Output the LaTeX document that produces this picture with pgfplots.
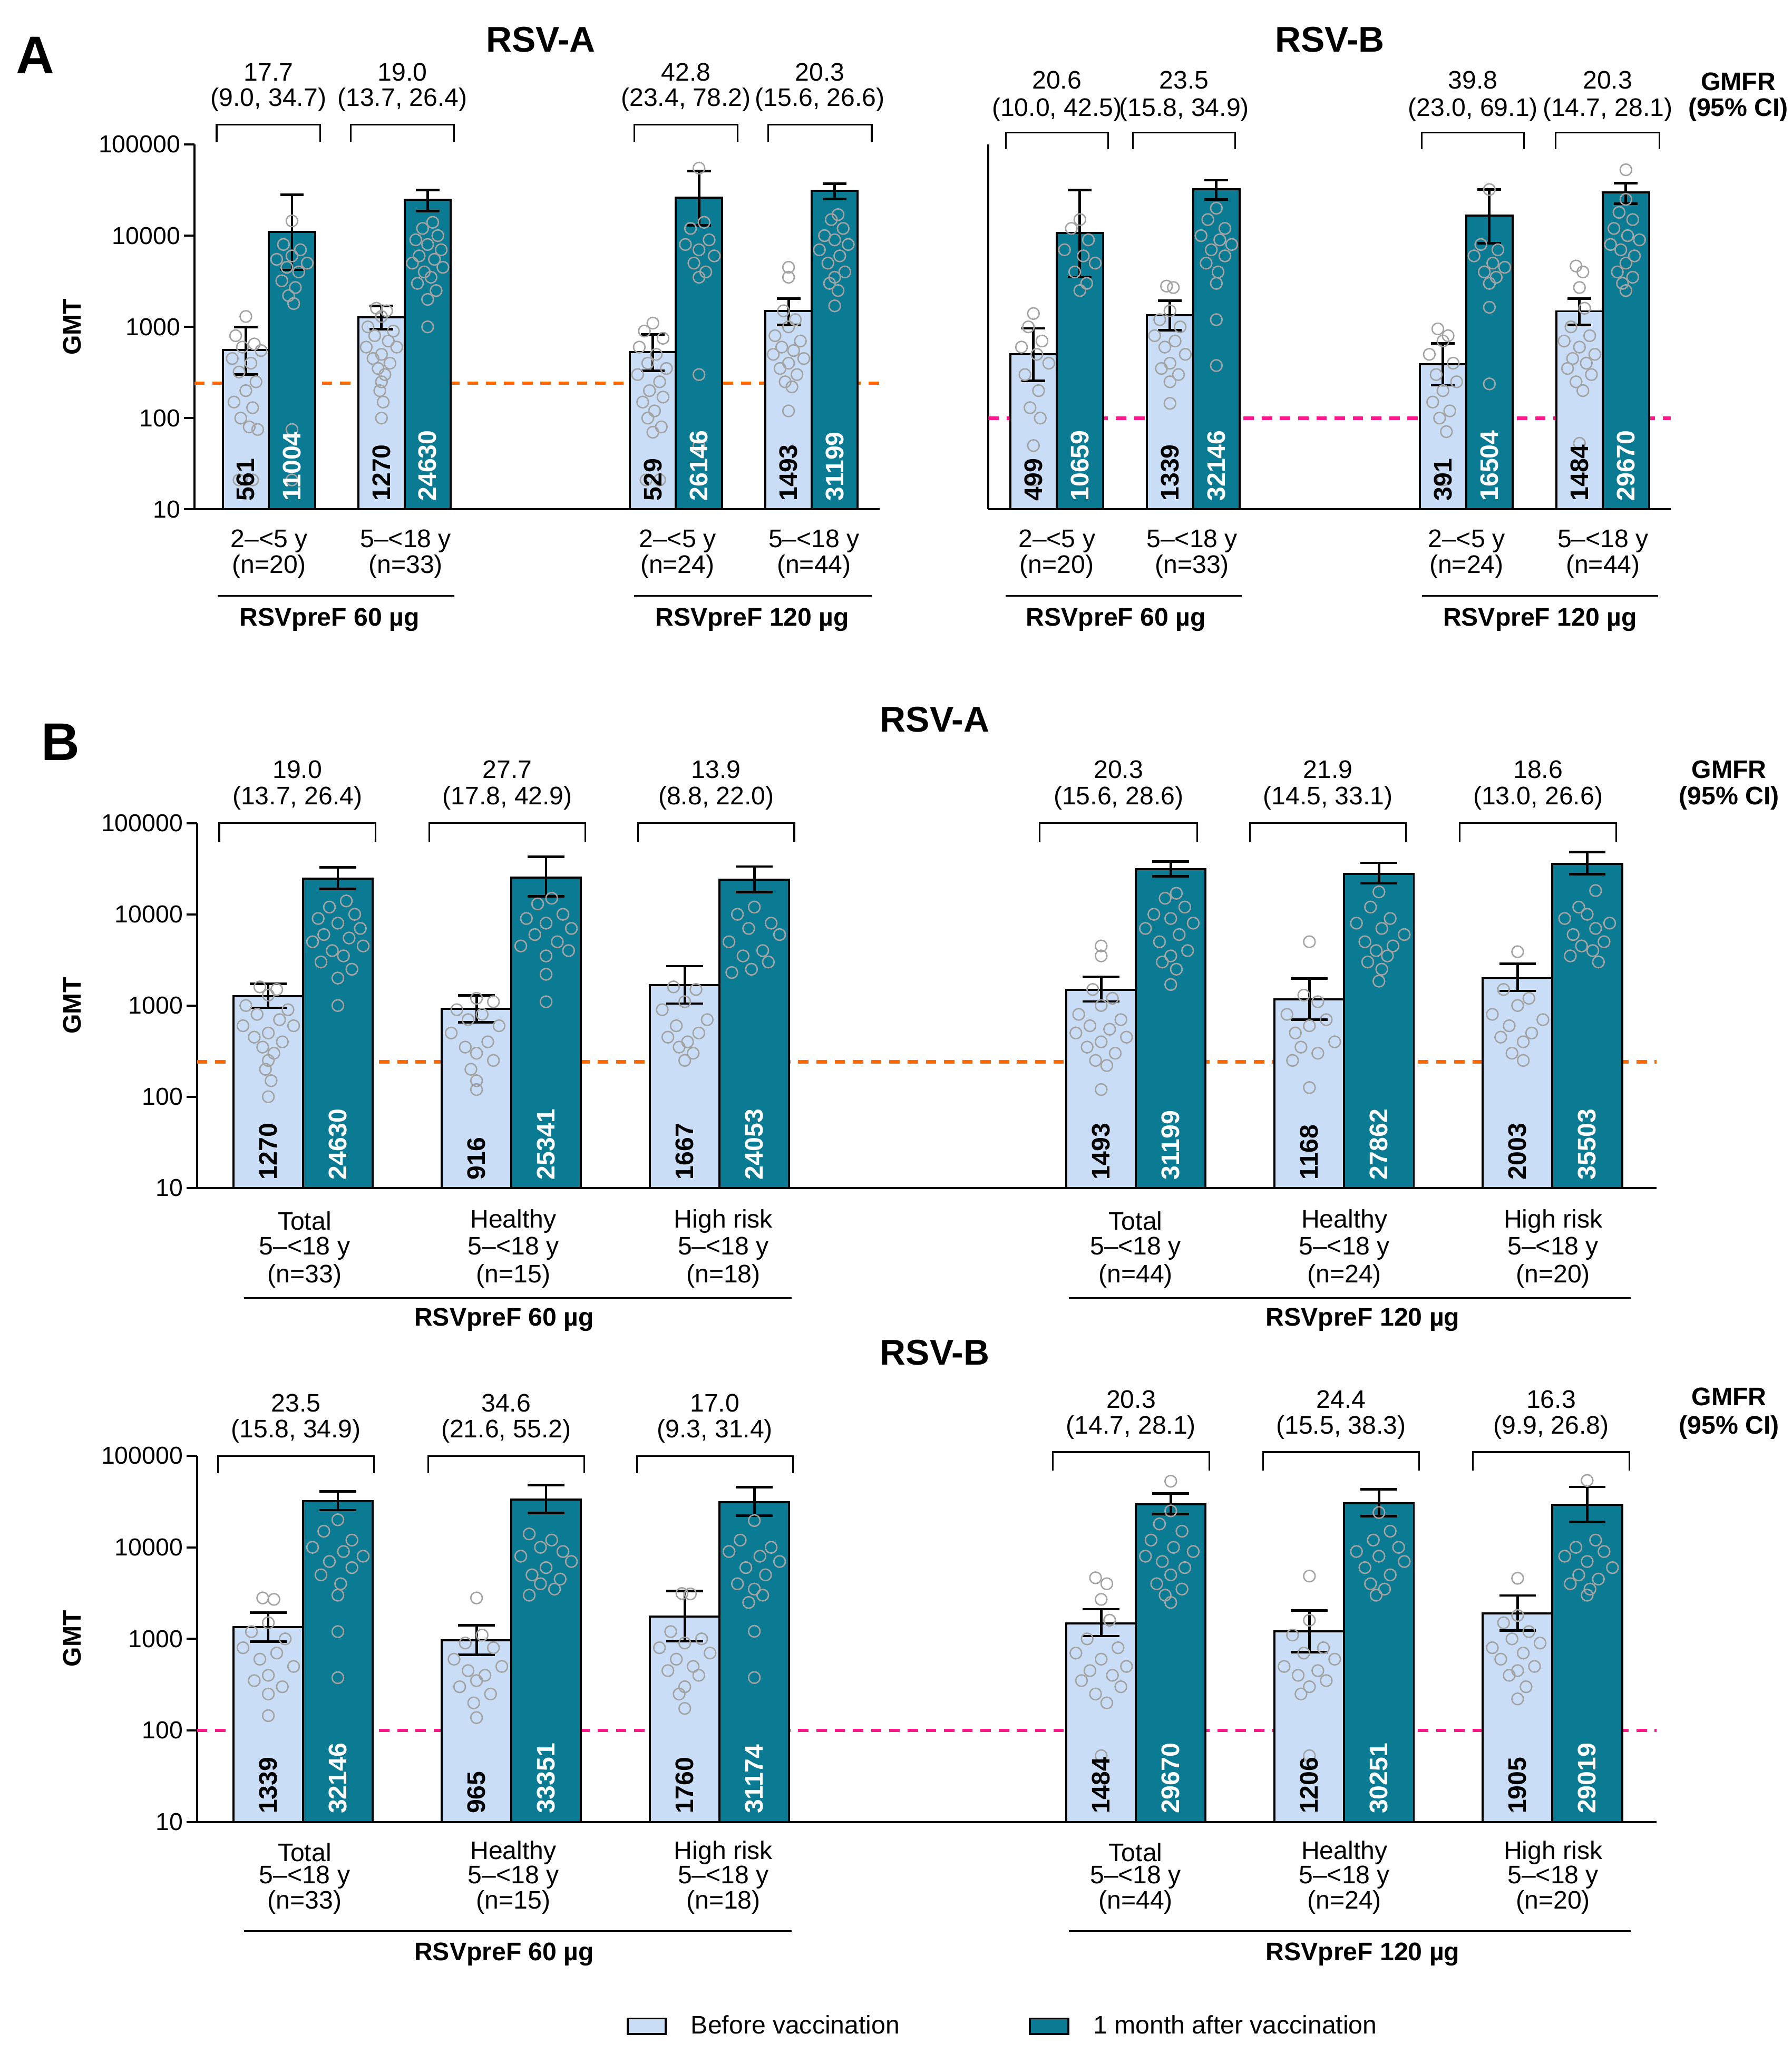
\documentclass[border=0pt]{standalone}
\usepackage{fontspec}
\setmainfont{Liberation Sans}
\usepackage{pgfplots}
\usepackage{pgfplotstable}
\pgfplotsset{compat=1.18}

\definecolor{cPre}{HTML}{C9DEF6}
\definecolor{cPost}{HTML}{0B7B93}
\definecolor{cA}{HTML}{FF6A00}
\definecolor{cB}{HTML}{FF1A8C}
\definecolor{cDot}{HTML}{A3A3A3}

% ---- bar heights (GMT) with 95% CI ----
\pgfplotstableread{
x y lo hi
0.83 561 302 1000
1.83 1270 942 1690
3.83 529 330 824
4.83 1493 1052 2040
}\AApre
\pgfplotstableread{
x y lo hi
1.17 11004 4220 28100
2.17 24630 18500 31800
4.17 26146 13000 51000
5.17 31199 25200 37100
}\AApost
\pgfplotstableread{
x y lo hi
0.83 499 256 962
1.83 1339 921 1930
3.83 391 229 661
4.83 1484 1052 2040
}\ABpre
\pgfplotstableread{
x y lo hi
1.17 10659 3500 31800
2.17 32146 24900 40500
4.17 16504 8260 32100
5.17 29670 22500 37500
}\ABpost
\pgfplotstableread{
x y lo hi
0.833 1270 944 1730
1.833 916 656 1297
2.833 1667 1050 2700
4.833 1493 1107 2070
5.833 1168 700 1967
6.833 2003 1445 2860
}\BApre
\pgfplotstableread{
x y lo hi
1.167 24630 19000 32700
2.167 25341 15700 42700
3.167 24053 17600 33400
5.167 31199 26100 37900
6.167 27862 21800 36700
7.167 35503 27500 48000
}\BApost
\pgfplotstableread{
x y lo hi
0.833 1339 931 1945
1.833 965 668 1410
2.833 1760 942 3320
4.833 1484 1074 2110
5.833 1206 718 2040
6.833 1905 1239 2980
}\BBpre
\pgfplotstableread{
x y lo hi
1.167 32146 25500 41000
2.167 33351 23800 47900
3.167 31174 22100 45200
5.167 29670 23200 38700
6.167 30251 21900 43000
7.167 29019 19000 45700
}\BBpost

% ---- individual titres (d = offset across the bar, v = titre) ----
\pgfplotstableread{
d v
0 1300
-0.6 800
0.5 650
-0.2 600
0.9 550
-0.8 450
0.3 400
-0.4 320
0.6 250
0 200
-0.7 150
0.4 130
-0.3 100
0.2 80
0.7 75
-0.4 21
0.4 21
}\AAonePre
\pgfplotstableread{
d v
0 14500
-0.5 8000
0.5 7000
0 6000
-0.9 5500
0.9 5000
-0.3 4500
0.4 4000
-0.6 3200
0.2 2700
-0.2 2200
0.1 1800
0 75
0 21
}\AAonePost
\pgfplotstableread{
d v
-0.3 1600
0.3 1500
0 1300
-0.8 1000
0.7 900
-0.4 800
0.4 700
-0.9 600
0.9 600
0 500
-0.5 450
0.5 400
-0.2 350
0.2 300
0 250
-0.1 200
0.1 150
0 100
}\AAtwoPre
\pgfplotstableread{
d v
0.3 14000
-0.3 12000
0.6 10000
-0.7 9000
0 8000
0.8 7000
-0.5 6000
0.4 5500
-0.9 5000
0.9 4500
-0.2 4000
0.2 3500
-0.6 3000
0.5 2500
0 2000
0 1000
}\AAtwoPost
\pgfplotstableread{
d v
0 1100
-0.5 900
0.6 750
-0.8 600
0.2 500
-0.3 400
0.8 350
-0.9 300
0.4 250
-0.2 200
0.6 170
-0.6 150
0.1 120
-0.3 100
0.5 80
0 70
-0.4 21
0.4 21
}\AAthreePre
\pgfplotstableread{
d v
0 55000
0.3 14000
-0.5 12000
0.6 9000
-0.8 8000
0 7000
0.9 6000
-0.3 5000
0.4 4000
0 3500
0 300
0 50
}\AAthreePost
\pgfplotstableread{
d v
0 4500
0 3500
-0.3 1500
0.4 1200
0 1000
-0.8 800
0.7 700
-0.4 600
0.3 550
-0.9 500
0.9 450
0 400
-0.5 350
0.5 300
-0.2 250
0.2 220
0 120
}\AAfourPre
\pgfplotstableread{
d v
0.2 17000
-0.2 15000
0.5 12000
-0.6 10000
0 9000
0.8 8000
-0.9 7000
0.3 6000
-0.4 5000
0.6 4000
0 3500
-0.3 3000
0.2 2500
0 1700
}\AAfourPost
\pgfplotstableread{
d v
0 1400
-0.3 1000
0.5 700
-0.7 600
0.2 500
0.9 400
-0.5 300
0.3 200
-0.2 130
0.4 100
0 50
0 21
}\ABonePre
\pgfplotstableread{
d v
0 15000
-0.5 12000
0.5 9000
-0.9 7000
0.2 6000
0.9 5000
-0.3 4000
0.4 3000
0 2500
}\ABonePost
\pgfplotstableread{
d v
-0.2 2800
0.2 2700
0 1500
-0.6 1200
0.6 1000
-0.9 800
0.3 700
-0.3 600
0.9 500
0 400
-0.5 350
0.5 300
0 250
0 145
}\ABtwoPre
\pgfplotstableread{
d v
0 20000
-0.5 15000
0.5 12000
-0.9 10000
0.2 9000
0.9 8000
-0.3 7000
0.5 6000
-0.6 5000
0.1 4000
0 3000
0 1200
0 377
}\ABtwoPost
\pgfplotstableread{
d v
-0.3 950
0.3 800
0 700
-0.8 500
0.6 400
-0.4 300
0.8 250
0 200
-0.6 150
0.4 120
-0.2 100
0.2 71
0 21
}\ABthreePre
\pgfplotstableread{
d v
0 32000
-0.5 8000
0.5 7000
-0.9 6000
0.2 5000
0.9 4500
-0.3 4000
0.4 3500
0 3000
0 1640
0 237
}\ABthreePost
\pgfplotstableread{
d v
-0.2 4650
0.2 4000
0 2700
0.3 1600
-0.5 1000
0.6 800
-0.9 700
0 600
0.9 500
-0.4 450
0.4 400
-0.7 350
0.7 300
-0.2 250
0.2 200
0 53
}\ABfourPre
\pgfplotstableread{
d v
0 52700
0 25000
-0.4 18000
0.4 15000
-0.7 12000
0.1 10000
0.8 9000
-0.9 8000
-0.3 7000
0.5 6000
0 5000
-0.5 4000
0.4 3500
-0.2 3000
0 2500
}\ABfourPost
\pgfplotstableread{
d v
0 1200
0.6 1100
-0.7 900
0.2 800
-0.3 700
0.8 600
-0.9 500
0.4 400
-0.4 350
0 300
0.6 250
-0.2 200
0 150
0 120
}\BAhealthyLoPre
\pgfplotstableread{
d v
0.2 15000
-0.3 13000
0.6 10000
-0.7 9000
0 8000
0.9 7000
-0.4 6000
0.4 5000
-0.9 4500
0.8 4000
0 3500
0 2200
0 1100
}\BAhealthyLoPost
\pgfplotstableread{
d v
-0.4 1600
0.4 1500
0 1100
-0.8 900
0.8 700
-0.3 600
0.5 500
-0.6 450
0.1 400
-0.2 350
0.3 300
0 250
}\BAhighLoPre
\pgfplotstableread{
d v
0 12000
-0.6 10000
0.6 8000
-0.2 7000
0.9 6000
-0.9 5000
0.3 4000
-0.4 3500
0.5 3000
-0.1 2500
-0.8 2300
}\BAhighLoPost
\pgfplotstableread{
d v
0 5000
-0.2 1300
0.3 1100
-0.8 800
0.6 700
0 600
-0.5 500
0.9 400
-0.3 350
0.3 300
-0.6 250
0 126
}\BAhealthyHiPre
\pgfplotstableread{
d v
0 17600
-0.3 12000
0.4 9000
-0.8 8000
0.1 7000
0.9 6000
-0.5 5000
0.5 4500
-0.1 4000
0.3 3500
-0.4 3000
0.1 2500
0 1850
}\BAhealthyHiPost
\pgfplotstableread{
d v
0 3890
-0.5 1500
0.4 1200
0 1000
-0.9 800
0.9 700
-0.3 600
0.5 500
-0.6 450
0.2 400
-0.2 300
0.2 250
}\BAhighHiPre
\pgfplotstableread{
d v
0.3 18200
-0.3 12000
0 10000
-0.8 9000
0.8 8000
0.3 7000
-0.5 6000
0.6 5000
-0.2 4500
0.2 4000
-0.6 3500
0.4 3000
}\BAhighHiPost
\pgfplotstableread{
d v
0 2800
0.2 1100
-0.4 900
0.6 800
-0.8 600
0.9 500
-0.3 450
0.3 400
0 350
-0.6 300
0.5 250
-0.1 200
0 138
}\BBhealthyLoPre
\pgfplotstableread{
d v
-0.6 14000
0.2 12000
-0.2 10000
0.6 9000
-0.9 8000
0.9 7000
0 6000
-0.5 5000
0.5 4500
-0.2 4000
0.3 3500
-0.6 3000
}\BBhealthyLoPost
\pgfplotstableread{
d v
-0.1 3130
0.2 3100
-0.5 1200
0.6 1000
0 900
-0.9 800
0.9 700
-0.3 600
0.3 500
-0.6 450
0.5 400
0 300
-0.2 250
0 174
}\BBhighLoPre
\pgfplotstableread{
d v
0 19600
-0.5 12000
0.6 10000
-0.9 9000
0.2 8000
0.9 7000
-0.3 6000
0.4 5000
-0.6 4000
0 3500
0.3 3000
-0.2 2500
0 1210
0 378
}\BBhighLoPost
\pgfplotstableread{
d v
0 4850
0 1600
-0.6 1100
0.5 800
-0.2 700
0.9 600
-0.9 500
0.3 450
-0.4 400
0.6 350
0 300
-0.3 250
0 53
}\BBhealthyHiPre
\pgfplotstableread{
d v
0 24000
0.4 15000
-0.2 12000
0.7 10000
-0.8 9000
0 8000
0.9 7000
-0.5 6000
0.4 5000
-0.3 4000
0.2 3500
-0.1 3000
}\BBhealthyHiPost
\pgfplotstableread{
d v
0 4590
0 1800
-0.5 1500
0.4 1200
-0.2 1000
0.8 900
-0.9 800
0.2 700
-0.6 600
0.6 500
0 450
-0.3 400
0.3 300
0 221
}\BBhighHiPre
\pgfplotstableread{
d v
0 53700
0.3 12000
-0.4 10000
0.6 9000
-0.8 8000
0 7000
0.9 6000
-0.3 5000
0.4 4500
-0.6 4000
0.1 3500
0 3000
}\BBhighHiPost

\pgfplotsset{
  barpre/.style={ybar, bar width=#1, bar shift=0pt, fill=cPre, draw=black, line width=0.9pt},
  barpost/.style={ybar, bar width=#1, bar shift=0pt, fill=cPost, draw=black, line width=0.9pt},
  dotstyle/.style={only marks, mark=o, mark size=2.5pt, mark options={draw=cDot, line width=0.6pt}},
  lloq/.style={line width=1.5pt, dash pattern=on 4.5pt off 3.4pt},
  ebar/.style={draw=none, mark=none, error bars/y dir=both, error bars/y explicit,
    error bars/error bar style={draw=black, line width=1.1pt},
    error bars/error mark options={rotate=90, draw=black, line width=1.1pt, mark size=#1}},
  lbl/.style={draw=none, mark=none, nodes near coords, point meta=explicit symbolic,
    every node near coord/.style={rotate=90, anchor=west, inner sep=0pt,
      font=\bfseries\fontsize{11}{13}\selectfont, text=#1}},
}

\newcommand{\swarm}[3]{\addplot[dotstyle] table[x expr={#1+#2*\thisrow{d}}, y=v] {#3};}
\newcommand{\ebars}[2]{\addplot[ebar=#2] table[x=x, y=y, y error plus expr=\thisrow{hi}-\thisrow{y}, y error minus expr=\thisrow{y}-\thisrow{lo}] {#1};}
\newcommand{\vals}[2]{\addplot[lbl=#2] table[x=x, y expr=12.2, meta=y] {#1};}
\newcommand{\gm}[5]{\node at (#1,#2) {#4}; \node at (#1,#3) {#5};}
\newcommand{\brk}[4]{\draw[line width=0.7pt] (#1,#4) -- (#1,#3) -- (#2,#3) -- (#2,#4);}
\newcommand{\cat}[5]{\node at (#1,#2) {#4}; \node at (#1,#3) {#5};}
\newcommand{\catt}[7]{\node at (#1,#2) {#5}; \node at (#1,#3) {#6}; \node at (#1,#4) {#7};}

\begin{document}
\begin{tikzpicture}
\useasboundingbox (0,0) rectangle (27.3,-31.28);

% ---------- A, RSV-A ----------
\begin{axis}[scale only axis, height=5.56cm, width=10.44cm,
    at={(2.96cm,-7.76cm)}, anchor=south west,
    ymode=log, ymin=10, ymax=100000, log origin=infty,
    xmin=0.45, xmax=5.5,
    axis x line*=bottom, axis y line*=left,
    axis line style={line width=0.9pt, black},
    xtick=\empty, yminorticks=false,
    ytick={10,100,1000,10000,100000},
    yticklabels={10,100,1000,10000,100000},
    tick align=outside, major tick length=0.16cm,
    major tick style={line width=0.9pt, black},
    tick label style={font=\fontsize{10.6}{12}\selectfont},
    yticklabel style={xshift=0.07cm}]
\addplot[cA, lloq] coordinates {(0.45,241) (5.5,241)};
\addplot[barpre=0.34] table[x=x, y=y] {\AApre};
\addplot[barpost=0.34] table[x=x, y=y] {\AApost};
\swarm{0.83}{0.125}{\AAonePre}
\swarm{1.17}{0.125}{\AAonePost}
\swarm{1.83}{0.125}{\AAtwoPre}
\swarm{2.17}{0.125}{\AAtwoPost}
\swarm{3.83}{0.125}{\AAthreePre}
\swarm{4.17}{0.125}{\AAthreePost}
\swarm{4.83}{0.125}{\AAfourPre}
\swarm{5.17}{0.125}{\AAfourPost}
\ebars{\AApre}{0.18cm}
\ebars{\AApost}{0.18cm}
\vals{\AApre}{black}
\vals{\AApost}{white}
\end{axis}

% ---------- A, RSV-B ----------
\begin{axis}[scale only axis, height=5.56cm, width=10.4cm,
    at={(15.06cm,-7.76cm)}, anchor=south west,
    ymode=log, ymin=10, ymax=100000, log origin=infty,
    xmin=0.5, xmax=5.5,
    axis x line*=bottom, axis y line*=left,
    axis line style={line width=0.9pt, black},
    xtick=\empty, ytick=\empty, yminorticks=false]
\addplot[cB, lloq] coordinates {(0.5,100) (5.5,100)};
\addplot[barpre=0.34] table[x=x, y=y] {\ABpre};
\addplot[barpost=0.34] table[x=x, y=y] {\ABpost};
\swarm{0.83}{0.125}{\ABonePre}
\swarm{1.17}{0.125}{\ABonePost}
\swarm{1.83}{0.125}{\ABtwoPre}
\swarm{2.17}{0.125}{\ABtwoPost}
\swarm{3.83}{0.125}{\ABthreePre}
\swarm{4.17}{0.125}{\ABthreePost}
\swarm{4.83}{0.125}{\ABfourPre}
\swarm{5.17}{0.125}{\ABfourPost}
\ebars{\ABpre}{0.18cm}
\ebars{\ABpost}{0.18cm}
\vals{\ABpre}{black}
\vals{\ABpost}{white}
\end{axis}

% ---------- B, RSV-A ----------
\begin{axis}[scale only axis, height=5.56cm, width=22.24cm,
    at={(3.0cm,-18.1cm)}, anchor=south west,
    ymode=log, ymin=10, ymax=100000, log origin=infty,
    xmin=0.49, xmax=7.5,
    axis x line*=bottom, axis y line*=left,
    axis line style={line width=0.9pt, black},
    xtick=\empty, yminorticks=false,
    ytick={10,100,1000,10000,100000},
    yticklabels={10,100,1000,10000,100000},
    tick align=outside, major tick length=0.16cm,
    major tick style={line width=0.9pt, black},
    tick label style={font=\fontsize{10.6}{12}\selectfont},
    yticklabel style={xshift=0.07cm}]
\addplot[cA, lloq] coordinates {(0.49,241) (7.5,241)};
\addplot[barpre=0.335] table[x=x, y=y] {\BApre};
\addplot[barpost=0.335] table[x=x, y=y] {\BApost};
\swarm{0.833}{0.135}{\AAtwoPre}
\swarm{1.167}{0.135}{\AAtwoPost}
\swarm{1.833}{0.135}{\BAhealthyLoPre}
\swarm{2.167}{0.135}{\BAhealthyLoPost}
\swarm{2.833}{0.135}{\BAhighLoPre}
\swarm{3.167}{0.135}{\BAhighLoPost}
\swarm{4.833}{0.135}{\AAfourPre}
\swarm{5.167}{0.135}{\AAfourPost}
\swarm{5.833}{0.135}{\BAhealthyHiPre}
\swarm{6.167}{0.135}{\BAhealthyHiPost}
\swarm{6.833}{0.135}{\BAhighHiPre}
\swarm{7.167}{0.135}{\BAhighHiPost}
\ebars{\BApre}{0.28cm}
\ebars{\BApost}{0.28cm}
\vals{\BApre}{black}
\vals{\BApost}{white}
\end{axis}

% ---------- B, RSV-B ----------
\begin{axis}[scale only axis, height=5.58cm, width=22.24cm,
    at={(3.0cm,-27.76cm)}, anchor=south west,
    ymode=log, ymin=10, ymax=100000, log origin=infty,
    xmin=0.49, xmax=7.5,
    axis x line*=bottom, axis y line*=left,
    axis line style={line width=0.9pt, black},
    xtick=\empty, yminorticks=false,
    ytick={10,100,1000,10000,100000},
    yticklabels={10,100,1000,10000,100000},
    tick align=outside, major tick length=0.16cm,
    major tick style={line width=0.9pt, black},
    tick label style={font=\fontsize{10.6}{12}\selectfont},
    yticklabel style={xshift=0.07cm},
    legend columns=2,
    legend style={draw=none, at={(0.553,-0.558)}, anchor=center, font=\fontsize{11}{13}\selectfont,
      /tikz/every odd column/.append style={column sep=0.3cm},
      /tikz/every even column/.append style={column sep=1.9cm}},
    legend image code/.code={\draw[#1, draw=black, line width=0.9pt] (0cm,-0.12cm) rectangle (0.58cm,0.12cm);}]
\addlegendimage{fill=cPre}
\addlegendentry{Before vaccination}
\addlegendimage{fill=cPost}
\addlegendentry{1 month after vaccination}
\addplot[cB, lloq] coordinates {(0.49,100) (7.5,100)};
\addplot[barpre=0.335] table[x=x, y=y] {\BBpre};
\addplot[barpost=0.335] table[x=x, y=y] {\BBpost};
\swarm{0.833}{0.135}{\ABtwoPre}
\swarm{1.167}{0.135}{\ABtwoPost}
\swarm{1.833}{0.135}{\BBhealthyLoPre}
\swarm{2.167}{0.135}{\BBhealthyLoPost}
\swarm{2.833}{0.135}{\BBhighLoPre}
\swarm{3.167}{0.135}{\BBhighLoPost}
\swarm{4.833}{0.135}{\ABfourPre}
\swarm{5.167}{0.135}{\ABfourPost}
\swarm{5.833}{0.135}{\BBhealthyHiPre}
\swarm{6.167}{0.135}{\BBhealthyHiPost}
\swarm{6.833}{0.135}{\BBhighHiPre}
\swarm{7.167}{0.135}{\BBhighHiPost}
\ebars{\BBpre}{0.28cm}
\ebars{\BBpost}{0.28cm}
\vals{\BBpre}{black}
\vals{\BBpost}{white}
\end{axis}

% ---------- titles, GMFR brackets and group labels ----------
\begin{scope}[x=0.02cm, y=-0.02cm, font=\fontsize{11}{13}\selectfont]
\node[font=\bfseries\fontsize{23}{26}\selectfont] at (27,42) {A};
\node[font=\bfseries\fontsize{23}{26}\selectfont] at (46,565) {B};
\node[font=\bfseries\fontsize{15.5}{18}\selectfont] at (412,30) {RSV-A};
\node[font=\bfseries\fontsize{15.5}{18}\selectfont] at (1013,30) {RSV-B};
\node[font=\bfseries\fontsize{15.5}{18}\selectfont] at (712,548) {RSV-A};
\node[font=\bfseries\fontsize{15.5}{18}\selectfont] at (712,1030) {RSV-B};
\node[rotate=90, font=\bfseries\fontsize{11}{13}\selectfont] at (55,249) {GMT};
\node[rotate=90, font=\bfseries\fontsize{11}{13}\selectfont] at (55,766) {GMT};
\node[rotate=90, font=\bfseries\fontsize{11}{13}\selectfont] at (55,1248) {GMT};

% GMFR headers
\node[font=\bfseries\fontsize{11}{13}\selectfont] at (1324,62) {GMFR};
\node[font=\bfseries\fontsize{11}{13}\selectfont] at (1324,83.5) {(95\% CI)};
\node[font=\bfseries\fontsize{11}{13}\selectfont] at (1317,586) {GMFR};
\node[font=\bfseries\fontsize{11}{13}\selectfont] at (1317,608) {(95\% CI)};
\node[font=\bfseries\fontsize{11}{13}\selectfont] at (1317,1064) {GMFR};
\node[font=\bfseries\fontsize{11}{13}\selectfont] at (1317,1087) {(95\% CI)};

% A, RSV-A
\gm{204.5}{55}{76}{17.7}{(9.0, 34.7)}
\gm{306.5}{55}{76}{19.0}{(13.7, 26.4)}
\gm{522.5}{55}{76}{42.8}{(23.4, 78.2)}
\gm{624.5}{55}{76}{20.3}{(15.6, 26.6)}
\brk{165}{244}{95}{108}
\brk{267}{346}{95}{108}
\brk{483}{562}{95}{108}
\brk{585}{664}{95}{108}
\cat{205}{412}{431.5}{2–<5 y}{(n=20)}
\cat{309}{412}{431.5}{5–<18 y}{(n=33)}
\cat{516}{412}{431.5}{2–<5 y}{(n=24)}
\cat{620}{412}{431.5}{5–<18 y}{(n=44)}
\draw[line width=0.7pt] (166,454) -- (346,454);
\draw[line width=0.7pt] (483,454) -- (664,454);
\node[font=\bfseries\fontsize{11}{13}\selectfont] at (251,472) {RSVpreF 60 µg};
\node[font=\bfseries\fontsize{11}{13}\selectfont] at (573,472) {RSVpreF 120 µg};

% A, RSV-B
\gm{805}{61}{83.5}{20.6}{(10.0, 42.5)}
\gm{902}{61}{83.5}{23.5}{(15.8, 34.9)}
\gm{1122}{61}{83.5}{39.8}{(23.0, 69.1)}
\gm{1224.5}{61}{83.5}{20.3}{(14.7, 28.1)}
\brk{766}{844}{101}{113.5}
\brk{863}{941}{101}{113.5}
\brk{1083}{1161}{101}{113.5}
\brk{1185}{1264}{101}{113.5}
\cat{805}{412}{431.5}{2–<5 y}{(n=20)}
\cat{908}{412}{431.5}{5–<18 y}{(n=33)}
\cat{1117}{412}{431.5}{2–<5 y}{(n=24)}
\cat{1221}{412}{431.5}{5–<18 y}{(n=44)}
\draw[line width=0.7pt] (766,454) -- (946,454);
\draw[line width=0.7pt] (1083,454) -- (1263,454);
\node[font=\bfseries\fontsize{11}{13}\selectfont] at (850,472) {RSVpreF 60 µg};
\node[font=\bfseries\fontsize{11}{13}\selectfont] at (1173,472) {RSVpreF 120 µg};

% B, RSV-A
\gm{226.5}{586}{608}{19.0}{(13.7, 26.4)}
\gm{386.5}{586}{608}{27.7}{(17.8, 42.9)}
\gm{545.5}{586}{608}{13.9}{(8.8, 22.0)}
\gm{852}{586}{608}{20.3}{(15.6, 28.6)}
\gm{1011.5}{586}{608}{21.9}{(14.5, 33.1)}
\gm{1171.5}{586}{608}{18.6}{(13.0, 26.6)}
\brk{167}{286}{627}{641}
\brk{327}{446}{627}{641}
\brk{486}{605}{627}{641}
\brk{792}{912}{627}{641}
\brk{952}{1071}{627}{641}
\brk{1112}{1231}{627}{641}
\catt{232}{930}{951}{972}{Total}{5–<18 y}{(n=33)}
\catt{391}{930}{951}{972}{Healthy}{5–<18 y}{(n=15)}
\catt{551}{930}{951}{972}{High risk}{5–<18 y}{(n=18)}
\catt{865}{930}{951}{972}{Total}{5–<18 y}{(n=44)}
\catt{1024}{930}{951}{972}{Healthy}{5–<18 y}{(n=24)}
\catt{1183}{930}{951}{972}{High risk}{5–<18 y}{(n=20)}
\draw[line width=0.7pt] (186,988.6) -- (603,988.6);
\draw[line width=0.7pt] (814,988.6) -- (1242,988.6);
\node[font=\bfseries\fontsize{11}{13}\selectfont] at (384,1005) {RSVpreF 60 µg};
\node[font=\bfseries\fontsize{11}{13}\selectfont] at (1038,1005) {RSVpreF 120 µg};

% B, RSV-B
\gm{225.5}{1068.6}{1090}{23.5}{(15.8, 34.9)}
\gm{385.5}{1068.6}{1090}{34.6}{(21.6, 55.2)}
\gm{544.5}{1068.6}{1090}{17.0}{(9.3, 31.4)}
\gm{861.5}{1065.7}{1087}{20.3}{(14.7, 28.1)}
\gm{1021.5}{1065.7}{1087}{24.4}{(15.5, 38.3)}
\gm{1181.5}{1065.7}{1087}{16.3}{(9.9, 26.8)}
\brk{166}{285}{1109}{1122}
\brk{326}{445}{1109}{1122}
\brk{485}{604}{1109}{1122}
\brk{802}{921}{1106}{1120}
\brk{962}{1081}{1106}{1120}
\brk{1122}{1241}{1106}{1120}
\catt{232}{1411}{1430}{1449}{Total}{5–<18 y}{(n=33)}
\catt{391}{1411}{1430}{1449}{Healthy}{5–<18 y}{(n=15)}
\catt{551}{1411}{1430}{1449}{High risk}{5–<18 y}{(n=18)}
\catt{865}{1411}{1430}{1449}{Total}{5–<18 y}{(n=44)}
\catt{1024}{1411}{1430}{1449}{Healthy}{5–<18 y}{(n=24)}
\catt{1183}{1411}{1430}{1449}{High risk}{5–<18 y}{(n=20)}
\draw[line width=0.7pt] (186,1470.7) -- (603,1470.7);
\draw[line width=0.7pt] (814,1470.7) -- (1242,1470.7);
\node[font=\bfseries\fontsize{11}{13}\selectfont] at (384,1488.7) {RSVpreF 60 µg};
\node[font=\bfseries\fontsize{11}{13}\selectfont] at (1038,1488.7) {RSVpreF 120 µg};
\end{scope}
\end{tikzpicture}
\end{document}
